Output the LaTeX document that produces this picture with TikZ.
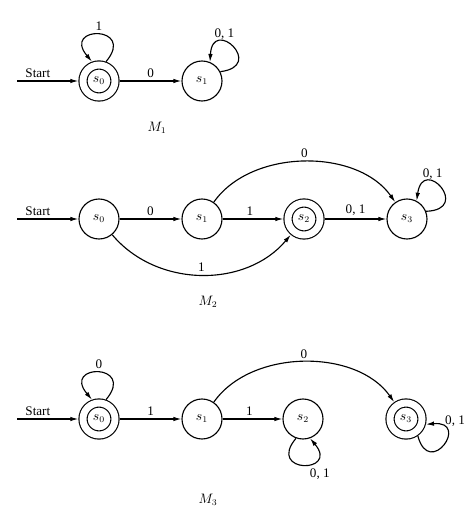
\documentclass[tikz,border=0pt]{standalone}
\usepackage{fontspec}
\setmainfont{Liberation Serif}
\usetikzlibrary{arrows.meta, positioning}

\begin{document}
\begin{tikzpicture}[
	x=0.8pt, y=-0.8pt,
	line width=0.9pt,
	font=\fontsize{10.5}{12}\selectfont,
	state/.style={circle, draw, minimum size=32pt, inner sep=0pt},
	accept/.style={circle, draw, double, double distance=5.6pt, minimum size=25.6pt, inner sep=0pt, outer sep=3.7pt},
	trans/.style={-{Latex[length=6.5pt, width=3.6pt]}},
	lbl/.style={inner sep=2.5pt}
	]
	
	\useasboundingbox (0,0) rectangle (474,521);
	
	% --- M1 ---
	\coordinate (start-1) at (17,81);
	\node[accept] (a-0) at (99,81) {$s_0$};
	\node[state] (a-1) at (202,81) {$s_1$};
	\node (m-1) at (157,128) {$M_1$};
	
	\draw[trans] (start-1) -- node[lbl, above, pos=0.34] {Start} (a-0);
	\draw[trans] (a-0) -- node[lbl, above] {0} (a-1);
	\draw[trans] (a-0.70) .. controls +(50:38pt) and +(130:38pt) .. node[lbl, above] {1} (a-0.110);
	\draw[trans] (a-1.27) .. controls +(7:37pt) and +(87:37pt) .. node[lbl, above, pos=0.66] {0, 1} (a-1.67);
	
	% --- M2 ---
	\coordinate (start-2) at (17,219);
	\node[state] (b-0) at (99,219) {$s_0$};
	\node[state] (b-1) at (202,219) {$s_1$};
	\node[accept] (b-2) at (304,219) {$s_2$};
	\node[state] (b-3) at (407,219) {$s_3$};
	\node (m-2) at (208,302) {$M_2$};
	
	\draw[trans] (start-2) -- node[lbl, above, pos=0.34] {Start} (b-0);
	\draw[trans] (b-0) -- node[lbl, above] {0} (b-1);
	\draw[trans] (b-1) -- node[lbl, above, pos=0.45] {1} (b-2);
	\draw[trans] (b-2) -- node[lbl, above] {0, 1} (b-3);
	\draw[trans] (b-1) to[out=55, in=125, looseness=0.93] node[lbl, above] {0} (b-3);
	\draw[trans] (b-0) to[out=-50, in=-130, looseness=1] node[lbl, above] {1} (b-2);
	\draw[trans] (b-3.22) .. controls +(2:37pt) and +(82:37pt) .. node[lbl, above, pos=0.66] {0, 1} (b-3.62);
	
	% --- M3 ---
	\coordinate (start-3) at (17,419);
	\node[accept] (c-0) at (99,419) {$s_0$};
	\node[state] (c-1) at (202,419) {$s_1$};
	\node[state] (c-2) at (303,419) {$s_2$};
	\node[accept] (c-3) at (406,419) {$s_3$};
	\node (m-3) at (208,500) {$M_3$};
	
	\draw[trans] (start-3) -- node[lbl, above, pos=0.34] {Start} (c-0);
	\draw[trans] (c-0) -- node[lbl, above] {1} (c-1);
	\draw[trans] (c-1) -- node[lbl, above, pos=0.45] {1} (c-2);
	\draw[trans] (c-1) to[out=55, in=125, looseness=0.93] node[lbl, above] {0} (c-3);
	\draw[trans] (c-0.70) .. controls +(50:38pt) and +(130:38pt) .. node[lbl, above] {0} (c-0.110);
	\draw[trans] (c-2.250) .. controls +(230:37pt) and +(310:37pt) .. node[lbl, below right, pos=0.55] {0, 1} (c-2.290);
	\draw[trans] (c-3.305) .. controls +(285:36pt) and +(5:36pt) .. node[lbl, anchor=south west, inner sep=1pt, pos=0.8] {0, 1} (c-3.345);
	
\end{tikzpicture}
\end{document}
